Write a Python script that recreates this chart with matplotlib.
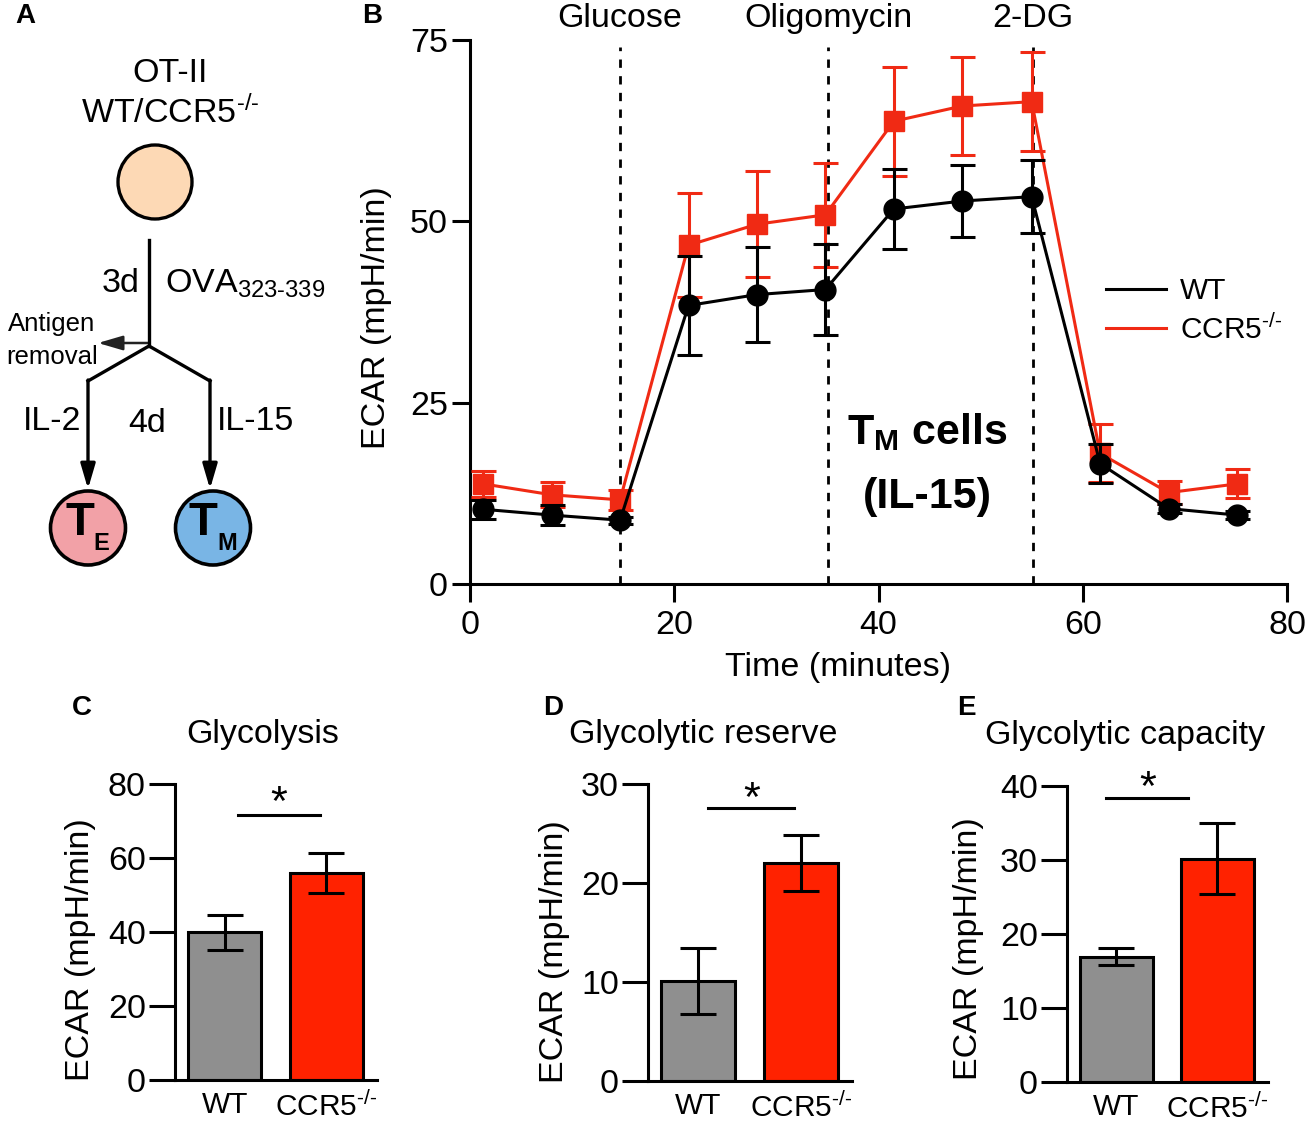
import matplotlib
matplotlib.use('Agg')
import matplotlib.pyplot as plt
from matplotlib.patches import Ellipse, FancyArrowPatch
from matplotlib.lines import Line2D
import matplotlib.transforms as mtransforms

plt.rcParams['font.family'] = ['Liberation Sans', 'DejaVu Sans']
plt.rcParams['mathtext.fontset'] = 'custom'
plt.rcParams['mathtext.rm'] = 'Liberation Sans'
plt.rcParams['mathtext.it'] = 'Liberation Sans:italic'
plt.rcParams['mathtext.bf'] = 'Liberation Sans:bold'

# ---------------- data ----------------
time_min = [1.3, 8.0, 14.7, 21.4, 28.1, 34.8, 41.5, 48.2, 55.0, 61.7, 68.4, 75.1]
wt_ecar = [10.3, 9.5, 8.8, 38.4, 39.9, 40.6, 51.7, 52.8, 53.4, 16.6, 10.4, 9.5]
wt_err = [1.3, 1.4, 0.5, 6.8, 6.6, 6.3, 5.5, 5.0, 5.0, 2.7, 0.6, 0.5]
ko_ecar = [13.8, 12.3, 11.6, 46.7, 49.6, 50.9, 63.8, 65.9, 66.5, 18.0, 12.6, 13.8]
ko_err = [1.8, 1.7, 1.4, 7.2, 7.3, 7.2, 7.5, 6.8, 6.8, 4.0, 1.6, 2.0]

inj_times = [14.7, 35.1, 55.1]
inj_labels = ['Glucose', 'Oligomycin', '2-DG']

KO = 'CCR5$^{\\text{-/-}}$'
groups = ['WT', KO]
glycolysis_mean = [39.9, 56.0]
glycolysis_err = [4.7, 5.4]
reserve_mean = [10.1, 22.0]
reserve_err = [3.35, 2.8]
capacity_mean = [16.9, 30.2]
capacity_err = [1.15, 4.75]

bar_titles = ['Glycolysis', 'Glycolytic reserve', 'Glycolytic capacity']
bar_ylims = [80, 30, 40]
bar_yticks = [[0, 20, 40, 60, 80], [0, 10, 20, 30], [0, 10, 20, 30, 40]]

# ---------------- style ----------------
RED = '#ff2200'
LRED = '#f02a14'
GRAY = '#8f8f8f'
LW = 2.2
FS = 24.5
W, H = 1309, 1124

fig = plt.figure(figsize=(W / 100, H / 100), dpi=100)


def rect(x0, y0, x1, y1):
    # pixel box (top-left origin) -> figure fraction
    return [x0 / W, 1 - y1 / H, (x1 - x0) / W, (y1 - y0) / H]


# ---------------- panel A (schematic) ----------------
axA = fig.add_axes(rect(0, 0, 340, 580))
axA.set_xlim(0, 340)
axA.set_ylim(580, 0)
axA.axis('off')
axA.text(170, 73, 'OT-II', ha='center', va='center', fontsize=FS)
axA.text(170, 113, 'WT/' + KO, ha='center', va='center', fontsize=FS)
axA.add_patch(Ellipse((155, 182), 74, 74, facecolor='#fdd9b5', edgecolor='black', lw=2.4))
axA.plot([149, 149], [240, 346], color='black', lw=2.4)
axA.text(121, 284, '3d', ha='center', va='center', fontsize=FS)
axA.text(165, 284, 'OVA$_{\\text{323-339}}$', ha='left', va='center', fontsize=FS)
axA.add_patch(FancyArrowPatch((149, 343), (98, 343), arrowstyle='-|>,head_length=0.75,head_width=0.22',
                              mutation_scale=20, color='#222222', lw=1.8, shrinkA=0, shrinkB=0))
axA.text(52, 324, 'Antigen', ha='center', va='center', fontsize=18.5)
axA.text(52, 357, 'removal', ha='center', va='center', fontsize=18.5)
axA.plot([88, 149, 210], [381, 346, 381], color='black', lw=2.4, solid_joinstyle='miter')
for xx in (88, 210):
    axA.add_patch(FancyArrowPatch((xx, 380), (xx, 489), arrowstyle='-|>,head_length=0.75,head_width=0.22',
                                  mutation_scale=20, color='black', lw=2.4, shrinkA=0, shrinkB=0))
axA.text(52, 422, 'IL-2', ha='center', va='center', fontsize=FS)
axA.text(147, 424, '4d', ha='center', va='center', fontsize=FS)
axA.text(256, 422, 'IL-15', ha='center', va='center', fontsize=FS)
axA.add_patch(Ellipse((88, 528), 75, 74, facecolor='#f2a1a7', edgecolor='black', lw=2.6))
axA.add_patch(Ellipse((213, 528), 75, 74, facecolor='#79b5e5', edgecolor='black', lw=2.6))
axA.text(80, 523, 'T', ha='center', va='center', fontsize=34, fontweight='bold')
axA.text(101, 544, 'E', ha='center', va='center', fontsize=17, fontweight='bold')
axA.text(203, 523, 'T', ha='center', va='center', fontsize=34, fontweight='bold')
axA.text(227, 544, 'M', ha='center', va='center', fontsize=17, fontweight='bold')

# ---------------- panel B ----------------
axB = fig.add_axes(rect(470, 40, 1287, 584))
axB.set_xlim(0, 80)
axB.set_ylim(0, 75)
for s in ('top', 'right'):
    axB.spines[s].set_visible(False)
for s in ('left', 'bottom'):
    axB.spines[s].set_linewidth(LW)
axB.set_xticks([0, 20, 40, 60, 80])
axB.set_yticks([0, 25, 50, 75])
axB.tick_params(axis='both', width=LW, length=13, labelsize=FS, direction='out')
axB.tick_params(axis='y', pad=3)
axB.tick_params(axis='x', pad=6)

axB.vlines(inj_times, 0, 74, colors='black', linestyles=(0, (3, 3)), lw=2.0, zorder=1)
trB = mtransforms.blended_transform_factory(axB.transData, axB.transAxes)
for t, lab in zip(inj_times, inj_labels):
    axB.text(t, 1.04, lab, transform=trB, ha='center', va='center', fontsize=FS)

axB.errorbar(time_min, ko_ecar, yerr=ko_err, color=LRED, lw=LW, marker='s', ms=14,
             mfc=LRED, mec=LRED, capsize=9, capthick=LW, elinewidth=LW, zorder=3)
axB.errorbar(time_min, wt_ecar, yerr=wt_err, color='black', lw=LW, marker='o', ms=15,
             mfc='black', mec='black', capsize=9, capthick=LW, elinewidth=LW, zorder=4)

axB.set_ylabel('ECAR (mpH/min)', fontsize=FS, va='center')
axB.yaxis.set_label_coords(-0.115, 0.49)
axB.set_xlabel('Time (minutes)', fontsize=FS, va='center')
axB.xaxis.set_label_coords(0.45, -0.153)

axB.text(0.56, 0.28, '$\\mathbf{T}_{\\mathregular{M}}$ cells', transform=axB.transAxes,
         ha='center', va='center', fontsize=31, fontweight='bold')
axB.text(0.56, 0.16, '(IL-15)', transform=axB.transAxes,
         ha='center', va='center', fontsize=31, fontweight='bold')

handles = [Line2D([], [], color='black', lw=LW), Line2D([], [], color=LRED, lw=LW)]
axB.legend(handles, ['WT', KO], loc='center left',
           bbox_to_anchor=(0.779, 0.502), frameon=False, fontsize=21.5, handlelength=2.0,
           handletextpad=0.45, labelspacing=0.3, borderpad=0, borderaxespad=0)

# ---------------- panels C, D, E ----------------
bar_boxes = [rect(175, 784, 377, 1080), rect(648, 784, 852, 1081), rect(1067, 786, 1268, 1082)]
bar_means = [glycolysis_mean, reserve_mean, capacity_mean]
bar_errs = [glycolysis_err, reserve_err, capacity_err]
ylab_x = [-0.47, -0.456, -0.4925]
ylab_y = [0.44, 0.434, 0.45]
title_xy = [(0.436, 1.166), (0.27, 1.165), (0.289, 1.172)]
sig_x = [(0.127, 0.94), (0.10, 0.93), (-0.10, 0.71)]
sig_y = [71.6, 27.6, 38.4]
star_x = [0.53, 0.52, 0.31]
star_y = [74.5, 28.4, 39.6]

for i in range(3):
    ax = fig.add_axes(bar_boxes[i])
    ax.set_xlim(-0.49, 1.5)
    ax.set_ylim(0, bar_ylims[i])
    for s in ('top', 'right'):
        ax.spines[s].set_visible(False)
    for s in ('left', 'bottom'):
        ax.spines[s].set_linewidth(LW)
    ax.bar([0, 1], bar_means[i], width=0.72, color=[GRAY, RED], edgecolor='black', lw=LW,
           zorder=2)
    ax.errorbar([0, 1], bar_means[i], yerr=bar_errs[i], fmt='none', ecolor='black',
                elinewidth=LW, capsize=13, capthick=LW, zorder=3)
    ax.set_yticks(bar_yticks[i])
    ax.set_xticks([0, 1])
    ax.set_xticklabels(groups)
    ax.tick_params(axis='y', width=LW, length=19, labelsize=FS, pad=2)
    ax.tick_params(axis='x', length=0, labelsize=21.5, pad=8)
    ax.set_ylabel('ECAR (mpH/min)', fontsize=FS, va='center')
    ax.yaxis.set_label_coords(ylab_x[i], ylab_y[i])
    ax.text(title_xy[i][0], title_xy[i][1], bar_titles[i], transform=ax.transAxes,
            ha='center', va='center', fontsize=FS)
    ax.plot(sig_x[i], [sig_y[i], sig_y[i]], color='black', lw=LW, clip_on=False)
    ax.text(star_x[i], star_y[i], '*', ha='center', va='center', fontsize=31, clip_on=False)

# ---------------- panel letters ----------------
for lab, (px, py) in zip('ABCDE', [(25, 16), (372, 16), (82, 708), (553, 708), (966, 708)]):
    fig.text(px / W, 1 - py / H, lab, ha='center', va='center', fontsize=20, fontweight='bold')

fig.savefig('out.png', dpi=100)
